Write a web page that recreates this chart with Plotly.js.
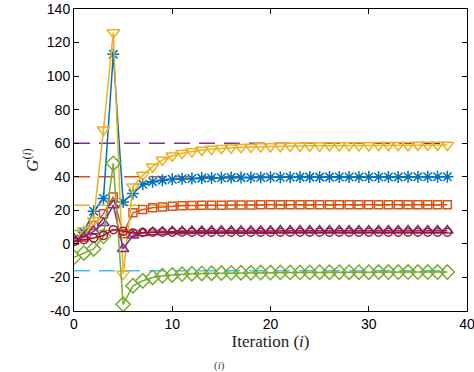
<!DOCTYPE html>
<html>
<head>
<meta charset="utf-8">
<script src="https://cdn.plot.ly/plotly-3.0.1.min.js"></script>
<style>html,body{margin:0;padding:0;background:#fff;} #chart{width:474px;height:372px;}</style>
</head>
<body>
<div id="chart"></div>
<script>
const iterations = [0,1,2,3,4,5,6,7,8,9,10,11,12,13,14,15,16,17,18,19,20,21,22,23,24,25,26,27,28,29,30,31,32,33,34,35,36,37,38];

const seriesBlue = [3,7,19.5,27,113,25,30,35.5,37,38,38.5,38.8,39,39.2,39.3,39.4,39.5,39.5,39.6,39.6,39.7,39.7,39.7,39.8,39.8,39.8,39.8,39.9,39.9,39.9,39.9,39.9,39.9,39.9,40,40,40,40,40];
const seriesRed = [2,4,11,18,28,6,18.5,20.5,21.5,22,22.4,22.7,22.9,23,23.1,23.1,23.2,23.2,23.2,23.3,23.3,23.3,23.3,23.3,23.3,23.3,23.3,23.3,23.3,23.3,23.3,23.3,23.3,23.3,23.3,23.3,23.3,23.3,23.3];
const seriesYellow = [2,8,14,68,126,-18,34,41,46,50,52.5,54,55,56,56.5,57,57.3,57.6,57.8,58,58.1,58.2,58.3,58.4,58.5,58.5,58.6,58.6,58.7,58.7,58.7,58.8,58.8,58.8,58.8,58.9,58.9,58.9,58.9];
const seriesPurple = [3,4,7.5,12.5,23,-3,5,6.5,7,7.3,7.5,7.6,7.7,7.7,7.8,7.8,7.8,7.9,7.9,7.9,7.9,8,8,8,8,8,8,8,8,8,8,8,8,8,8,8,8,8,8];
const seriesGreen = [-8,-5.5,-3,4.5,48,-36,-25,-22,-20,-19,-18.5,-18,-17.8,-17.6,-17.5,-17.4,-17.3,-17.2,-17.2,-17.1,-17.1,-17,-17,-17,-17,-16.9,-16.9,-16.9,-16.9,-16.9,-16.9,-16.8,-16.8,-16.8,-16.8,-16.8,-16.8,-16.8,-16.8];
const seriesDarkRed = [1.5,2.5,3.5,5,8.5,7.5,6.5,6.8,7,7,7,7,7,7,7,7,7,7,7,7,7,7,7,7,7,7,7,7,7,7,7,7,7,7,7,7,7,7,7];

const targetX = [0, 38];
const targetValues = [40, 23, 60, 8, -16];
const targetColors = ['#D95319','#EDB120','#7E2F8E','#77AC30','#4DBEEE'];

const xTicks = [0,10,20,30,40];
const yTicks = [-40,-20,0,20,40,60,80,100,120,140];

const traces = [];
targetValues.forEach((v,k)=>{
  traces.push({x: targetX, y: [v, v], mode:'lines', line:{color: targetColors[k], width:1.5, dash:'16px,9px'}, hoverinfo:'skip'});
});

const series = [
  {y: seriesBlue, color:'#0072BD', symbol:'asterisk-open', size:10},
  {y: seriesRed, color:'#D95319', symbol:'square-open', size:8},
  {y: seriesYellow, color:'#EDB120', symbol:'triangle-down-open', size:11},
  {y: seriesPurple, color:'#7E2F8E', symbol:'triangle-up-open', size:10},
  {y: seriesGreen, color:'#77AC30', symbol:'diamond-open', size:11},
  {y: seriesDarkRed, color:'#A2142F', symbol:'circle-open', size:8}
];
series.forEach(s=>{
  traces.push({x: iterations, y: s.y, mode:'lines+markers',
    line:{color:s.color, width:1.5},
    marker:{symbol:s.symbol, size:s.size, color:s.color, line:{color:s.color, width:1.5}}});
});

const axisCommon = {showline:true, linecolor:'#000', linewidth:1, mirror:'allticks', ticks:'inside', ticklen:5, tickcolor:'#000', showgrid:false, zeroline:false, ticklabeloverflow:'allow', tickfont:{family:'Liberation Sans, Arial, sans-serif', size:14, color:'#000'}};

const layout = {
  width:474, height:372,
  margin:{l:74, r:7, t:9, b:61},
  showlegend:false,
  paper_bgcolor:'#fff', plot_bgcolor:'#fff',
  xaxis: Object.assign({}, axisCommon, {range:[0,40], tickvals:xTicks, ticktext:xTicks.map(String),
    title:{text:'Iteration (<i>i</i>)', font:{family:'Liberation Serif, DejaVu Serif, serif', size:17, color:'#222'}, standoff:2}}),
  yaxis: Object.assign({}, axisCommon, {range:[-40,140], tickvals:yTicks, ticktext:yTicks.map(String),
    title:{text:'<i>G</i><sup>(<i>i</i>)</sup>', font:{family:'Liberation Serif, DejaVu Serif, serif', size:17, color:'#222'}, standoff:3}}),
  annotations:[{xref:'paper', yref:'paper', x:0.37, y:0, yshift:-46, xanchor:'center', yanchor:'top', showarrow:false,
    text:'(<i>i</i>)', font:{family:'Liberation Serif, DejaVu Serif, serif', size:11, color:'#444'}}]
};

Plotly.newPlot('chart', traces, layout, {displayModeBar:false, staticPlot:true});
</script>
</body>
</html>
